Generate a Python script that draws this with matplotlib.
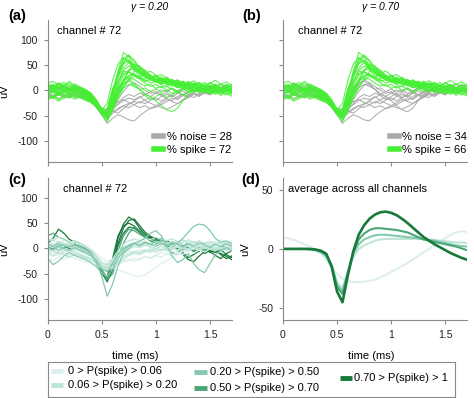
import numpy as np
import matplotlib
matplotlib.use('Agg')
import matplotlib.pyplot as plt
from matplotlib.lines import Line2D

plt.rcParams['font.family'] = ['Liberation Sans', 'DejaVu Sans']
plt.rcParams['axes.unicode_minus'] = False

# sample times (ms), one sample every 0.05 ms
time_ms = np.arange(35) * 0.05

# channel 72 snippets (uV) (a)/(b)
ch72_waveforms = [
    [4, 9, 3, 11, 6, 2, -3, -6, -14, -27, -43, -48, -8, 38, 75, 66, 48, 34, 25, 27, 19, 13, 16, 9, 11, 6, 13, 7, 3, 9, 5, -2, 6, 3, 9],
    [-6, -2, -9, -4, -10, -5, -8, -12, -18, -30, -40, -44, -2, 30, 52, 60, 50, 40, 31, 24, 20, 22, 14, 17, 10, 12, 5, 9, 2, -3, 4, -1, -6, 0, -4],
    [12, 8, 15, 10, 18, 9, 6, 1, -6, -22, -40, -36, 4, 27, 44, 55, 47, 36, 28, 20, 24, 15, 18, 12, 20, 14, 8, 15, 10, 16, 7, 12, 4, 10, 6],
    [0, -5, 3, -2, 4, 0, -4, -9, -15, -26, -46, -52, -18, 18, 40, 48, 44, 39, 30, 26, 18, 21, 12, 15, 8, 4, 10, 1, -4, 3, -7, -2, -10, -3, -8],
    [8, 3, 10, 5, 1, 6, 2, -3, -10, -24, -38, -26, 20, 52, 65, 58, 42, 33, 28, 22, 17, 24, 20, 13, 17, 10, 14, 19, 12, 8, 15, 9, 13, 7, 12],
    [-12, -16, -8, -14, -6, -11, -15, -20, -24, -32, -44, -58, -30, 8, 30, 40, 42, 35, 28, 30, 22, 16, 19, 12, 14, 7, 3, 9, -2, 4, -5, 1, -3, -9, -2],
    [3, 7, 0, 5, -2, 4, 1, -4, -11, -28, -47, -40, -5, 20, 33, 37, 31, 25, 34, 38, 30, 22, 26, 19, 13, 18, 11, 6, 13, 8, 2, 9, 3, -2, 5],
    [-3, 2, -6, 0, -8, -2, -6, -10, -17, -27, -42, -50, -25, 2, 18, 25, 22, 14, 9, 12, 4, 8, 0, 5, -3, 2, 6, -1, 4, -4, 1, -6, 2, -2, 3],
    [6, 1, 8, 3, 10, 4, 0, -5, -12, -24, -41, -45, -20, 5, 15, 18, 10, 2, -6, -12, -20, -30, -38, -42, -35, -20, -8, 2, 8, 3, 10, 5, 12, 6, 2],
    [-8, -3, -10, -5, 0, -6, -9, -14, -20, -30, -44, -56, -35, -2, 22, 40, 50, 45, 36, 27, 21, 14, 17, 10, 6, 12, 5, -1, 6, 0, -5, 2, -3, 4, -1],
    [2, -4, 3, -1, 5, 0, -3, -7, -13, -25, -38, -47, -30, -10, 5, 12, 8, 2, 5, -2, 3, -4, 1, -6, -1, 4, -3, 2, 7, 1, -4, 3, -2, 5, 0],
    [10, 5, 12, 7, 3, 9, 4, -1, -8, -20, -39, -42, -6, 35, 62, 70, 56, 43, 32, 26, 29, 20, 15, 21, 14, 9, 16, 10, 4, 11, 6, 12, 3, 8, 1],
    [-15, -10, -18, -12, -7, -14, -10, -16, -22, -33, -48, -62, -38, -5, 18, 30, 33, 24, 18, 22, 28, 31, 24, 16, 20, 13, 7, 14, 8, 2, 9, 3, -4, 2, -6],
    [5, 0, 7, 2, -3, 4, -1, -6, -14, -28, -44, -50, -42, -35, -30, -26, -22, -25, -18, -14, -20, -12, -8, -13, -5, -9, -2, 3, -4, 2, 6, 0, 5, -1, 3],
    [-5, -10, -3, -8, -12, -6, -10, -15, -22, -34, -48, -65, -55, -48, -52, -58, -60, -50, -42, -35, -30, -24, -18, -20, -12, -7, -11, -4, 1, -5, 2, -3, 4, -2, 1],
    [-10, -14, -7, -12, -5, -9, -13, -17, -20, -26, -35, -38, -30, -22, -18, -24, -28, -34, -30, -36, -33, -28, -22, -15, -18, -10, -14, -6, -10, -3, -7, 0, -5, 2, -4],
    [0, 4, -2, 6, 1, -3, -7, -11, -16, -25, -39, -44, -34, -28, -20, -15, -18, -12, -20, -25, -30, -34, -37, -32, -26, -18, -11, -14, -6, -2, -8, 1, -4, 3, -3],
    [8, 12, 5, 9, 14, 7, 3, -2, -9, -21, -37, -40, -22, -8, 8, 20, 28, 22, 15, 8, 12, 5, 9, 2, -4, 3, -2, 6, 0, -5, 2, -3, 5, 1, -2],
    [-2, 3, -5, 1, -3, 2, -2, -8, -16, -31, -45, -41, 0, 34, 54, 58, 46, 38, 27, 21, 16, 20, 11, 14, 7, 10, 3, 8, 0, 5, -2, 4, -4, 1, -3],
    [12, 7, 14, 9, 4, 10, 5, 0, -8, -22, -40, -48, -38, -26, -14, -8, -12, -5, -9, -2, -6, 1, -3, 4, -1, 6, 2, 8, 3, 10, 5, 11, 6, 12, 7],
    [-4, 1, -7, -2, 3, -5, -8, -13, -19, -29, -42, -50, -38, -15, 5, 22, 38, 45, 40, 30, 24, 18, 22, 15, 19, 11, 15, 8, 12, 5, 9, 2, 6, -1, 3],
    [14, 18, 11, 16, 9, 13, 7, 2, -5, -18, -36, -44, -12, 30, 62, 55, 40, 28, 35, 24, 28, 19, 24, 16, 21, 13, 18, 11, 16, 9, 14, 20, 12, 17, 10],
    [-18, -14, -21, -16, -11, -17, -13, -18, -23, -30, -41, -47, -20, 12, 38, 36, 30, 26, 20, 15, 18, 11, 7, 13, 5, 9, 2, -3, 3, -5, 0, -8, -2, -6, -11],
    [6, 10, 4, 8, 2, 7, 1, -4, -12, -26, -42, -54, -40, -10, 18, 38, 52, 48, 38, 29, 22, 26, 18, 22, 14, 18, 10, 14, 7, 11, 4, 8, 1, 5, -2],
    [-9, -13, -6, -11, -15, -8, -12, -17, -22, -31, -44, -52, -38, -18, -2, 10, 15, 8, 0, -6, -2, -9, -4, -12, -6, -1, -8, -3, 2, -4, 3, -2, 5, -1, 2],
    [3, -2, 5, 0, -4, 2, -3, -9, -17, -30, -46, -56, -45, -38, -30, -34, -28, -22, -26, -19, -15, -21, -14, -10, -16, -8, -12, -4, -9, -2, -6, 1, -3, 4, 0],
    [-1, 4, -3, 2, -6, 0, -4, -9, -16, -29, -44, -46, -10, 28, 55, 68, 60, 45, 33, 25, 30, 22, 16, 20, 12, 16, 9, 13, 6, 10, 3, 7, 0, 4, -3],
    [9, 4, 11, 6, 1, 7, 2, -4, -11, -23, -39, -46, -28, -5, 12, 22, 14, 2, -10, -18, -12, -6, -14, -8, -2, -9, -4, 3, -3, 4, -1, 6, 1, 7, 3],
    [-7, -12, -4, -9, -14, -7, -11, -15, -20, -28, -40, -43, -22, 5, 20, 28, 30, 26, 22, 26, 19, 14, 21, 15, 10, 17, 12, 6, 13, 8, 15, 9, 4, 11, 6],
    [-14, -9, -16, -11, -6, -12, -8, -13, -19, -30, -42, -48, -40, -45, -36, -28, -20, -14, -8, -12, -5, -10, -16, -22, -26, -20, -14, -8, -12, -5, -9, -2, -6, 0, -4],
]

# 1 = classed as spike, 0 = noise, for each gamma
is_spike_g020 = [1, 1, 1, 1, 1, 1, 1, 1, 1, 1, 1, 1, 1, 0, 0, 0, 0, 1, 1, 0,
                 1, 1, 1, 1, 0, 0, 1, 1, 1, 0]
is_spike_g070 = [1, 1, 1, 1, 1, 1, 1, 1, 0, 1, 0, 1, 1, 0, 0, 0, 0, 1, 1, 0,
                 1, 1, 1, 1, 0, 0, 1, 0, 1, 0]
gamma_labels = ['0.20', '0.70']
pct_noise = [28, 34]
pct_spike = [72, 66]

# channel 72 snippets coloured by P(spike) bin, panel (c)
ch72_prob_waveforms = [
    [10, 6, 12, 8, 3, 0, -5, -10, -16, -22, -28, -34, -38, -42, -46, -50, -54, -55, -52, -45, -38, -30, -24, -18, -12, -6, 0, 4, 8, 12, 10, 14, 9, 12, 8],
    [-5, -10, -2, -8, -13, -6, -11, -15, -19, -24, -30, -32, -28, -22, -18, -14, -10, -12, -6, -8, -2, -5, 2, -1, 4, 0, 6, 2, 8, 3, 7, 1, 5, 9, 4],
    [15, 18, 12, 16, 10, 14, 8, 4, -2, -10, -20, -26, -22, -15, -8, -2, 3, 8, 5, 10, 6, 12, 8, 14, 10, 16, 12, 8, 14, 10, 15, 11, 17, 12, 14],
    [-12, -8, -15, -10, -18, -12, -16, -20, -24, -28, -33, -36, -34, -30, -26, -22, -25, -20, -16, -18, -12, -8, -11, -5, -9, -3, -6, 0, -4, 2, -1, 4, 0, 3, -2],
    [5, 1, 8, 4, 10, 6, 2, -3, -10, -20, -34, -40, -25, -10, 2, 8, 12, 10, 14, 9, 13, 8, 11, 5, 9, 3, 7, 2, 6, -1, 4, 0, 3, -3, 1],
    [-8, -3, -11, -6, -2, -9, -12, -16, -21, -30, -40, -45, -32, -18, -8, 0, 4, 2, 7, 3, 0, 5, -2, 3, -5, 1, -3, 4, -1, 5, 0, -4, 2, -2, 3],
    [20, 15, 22, 17, 12, 16, 10, 5, -3, -14, -28, -33, -20, -5, 8, 15, 18, 16, 20, 17, 22, 18, 15, 19, 13, 17, 10, 14, 8, 12, 6, 10, 4, 8, 2],
    [0, -5, 2, -3, -8, -2, -6, -10, -14, -22, -36, -42, -36, -26, -16, -10, -6, -8, -3, -6, 0, -4, 2, -2, 4, 0, -3, 3, -1, 2, -2, 1, -4, 0, -1],
    [-20, -32, -25, -15, -8, -14, -18, -22, -28, -36, -48, -55, -40, -20, -5, 5, 10, 6, 12, 8, 4, 10, 6, 8, 10, 20, 32, 44, 48, 46, 35, 20, 12, 15, 10],
    [8, 4, 10, 6, 2, 7, 3, -2, -10, -28, -55, -94, -70, -35, -10, 0, 10, 5, 12, 8, 14, 10, 6, 12, 8, 3, 9, 5, 11, 7, 2, 8, 4, 10, 5],
    [2, -3, 5, 0, -4, 1, -3, -8, -14, -24, -40, -46, -30, -12, 0, 6, 10, 14, 20, 30, 35, 25, 5, -15, -28, -22, -10, -30, -42, -48, -30, -12, -5, 2, -4],
    [25, 30, 22, 18, 12, 15, 10, 4, -5, -20, -42, -58, -40, -5, 25, 38, 35, 28, 22, 18, 15, 20, 12, 8, 14, 6, 10, 2, 8, -5, 3, -2, 6, 1, 4],
    [-2, 3, -5, 0, 6, 2, -3, -8, -15, -27, -45, -62, -50, -18, 10, 30, 42, 36, 25, 15, 8, 12, 3, -8, -12, -5, 2, -4, 3, -2, 5, -1, 2, -3, 0],
    [10, 20, 38, 30, 18, 12, 8, 2, -6, -20, -45, -60, -30, 20, 48, 62, 55, 40, 28, 22, 20, 15, 10, 4, 0, -8, -18, -12, -5, 2, -6, -14, -20, -10, -5],
    [5, 0, 8, 3, 10, 6, 4, -1, -8, -22, -48, -66, -42, 10, 40, 55, 58, 45, 32, 24, 18, 12, 16, 8, 2, 6, -2, 4, -5, 0, -8, -3, -12, -20, -15],
    [0, 6, 2, 9, 4, 8, 3, -3, -10, -25, -50, -55, -20, 25, 45, 50, 44, 35, 25, 20, 14, 18, 10, 5, -4, -12, -22, -26, -15, -6, 2, -4, -10, -15, -22],
    [-4, 2, -2, 5, 0, 4, 1, -5, -12, -26, -46, -58, -35, 5, 30, 42, 40, 32, 22, 15, 10, 14, 6, 0, 4, -3, 2, -6, 0, -10, -4, -8, -2, -12, -18],
    [2, 7, 0, 5, 9, 3, -1, -6, -12, -20, -28, -30, -24, -16, -10, -5, -8, -2, -6, 1, -3, 4, 0, 6, 2, 8, 4, 10, 5, 9, 3, 7, 11, 6, 9],
    [-20, -24, -17, -22, -15, -19, -23, -26, -29, -33, -38, -40, -36, -31, -27, -23, -19, -22, -16, -20, -14, -17, -11, -14, -8, -12, -5, -9, -3, -7, -1, -4, 1, -2, -5],
    [12, 8, 14, 10, 6, 11, 7, 2, -6, -18, -32, -38, -26, -12, -2, 4, 8, 5, 10, 6, 11, 15, 10, 14, 8, 12, 17, 11, 15, 9, 13, 7, 11, 5, 9],
    [-10, -15, -8, -13, -17, -11, -14, -18, -22, -28, -38, -44, -38, -30, -22, -14, -8, -12, -6, -2, -7, -1, -5, 2, -3, 3, -2, 5, 0, 6, 1, -3, 4, -1, 2],
]
ch72_prob_bin = [0, 0, 0, 0, 1, 1, 1, 1, 2, 2, 2, 3, 3, 4, 4, 4, 4, 0, 0, 1, 1]

# average waveform across all channels for each P(spike) bin, panel (d)
avg_waveforms = [
    [10, 9, 7.5, 6, 4, 2, -1, -4, -9, -15, -21, -25, -27, -28, -28, -27.5, -27, -26, -24, -22, -19.5, -17, -14.5, -12, -9, -6, -3, 0, 3, 6, 9, 12, 14, 15, 14.5],
    [0, 0, 0, 0, 0, -0.5, -1.5, -3, -7, -15, -28, -33, -20, -7, 0, 3, 5, 7, 8, 8.5, 8.5, 8.5, 8.5, 8.5, 8.5, 8.5, 8.5, 8, 7.5, 7, 6.5, 6, 5.5, 5.5, 5],
    [0, 0, 0, 0, 0, -0.5, -1, -2.5, -6, -14, -30, -36, -19, -4, 4, 8, 10, 11.5, 12, 12, 11.5, 11, 10.5, 10, 9.5, 9, 8, 7.5, 7, 6, 5, 4, 3, 2.5, 2],
    [0, 0, 0, 0, 0, 0, -0.5, -2, -5, -14, -32, -38, -20, -3, 8, 13, 16, 17.5, 17.5, 17, 16.5, 16, 15, 14, 12, 10, 8, 7, 6, 5, 4, 3, 2, 0.5, -1],
    [0, 0, 0, 0, 0, 0, -0.5, -1.5, -4, -15, -36, -45, -22, -2, 12, 20, 25.5, 29, 31, 31.5, 30.5, 28.5, 25.5, 22, 18, 14, 10, 7, 4, 1.5, -1, -3.5, -5.5, -7.5, -9],
]

bin_labels = ['0 > P(spike) > 0.06', '0.06 > P(spike) > 0.20', '0.20 > P(spike) > 0.50',
              '0.50 > P(spike) > 0.70', '0.70 > P(spike) > 1']
bin_colors = ['#dcefee', '#bde5d6', '#84c9ae', '#4aa878', '#17793a']

noise_color = '#aaaaaa'
spike_color = '#45ef33'
axis_color = '#8a8a8a'
time_ticks = [0, 0.5, 1, 1.5]
time_ticklabels = ['0', '0.5', '1', '1.5']


def style_axis(ax, yticks, ylim, xlabels, ylabels):
    ax.set_xlim(0, 1.7)
    ax.set_ylim(*ylim)
    for side in ['top', 'right']:
        ax.spines[side].set_visible(False)
    for side in ['left', 'bottom']:
        ax.spines[side].set_color(axis_color)
        ax.spines[side].set_linewidth(0.8)
    ax.set_xticks(time_ticks)
    ax.set_yticks(yticks)
    ax.tick_params(direction='out', length=3, width=0.8, color=axis_color,
                   labelsize=7.5, pad=4, labelcolor='#222222')
    if xlabels:
        ax.set_xticklabels(time_ticklabels)
        ax.set_xlabel('time (ms)', fontsize=8)
        ax.xaxis.set_label_coords(0.475, -0.22)
    else:
        ax.set_xticklabels([])
    if ylabels:
        ax.set_yticklabels([str(v) for v in yticks])
        ax.set_ylabel('uV', fontsize=8)
    else:
        ax.set_yticklabels([])


fig = plt.figure(figsize=(4.74, 3.98), dpi=100)
ax_a = fig.add_axes([0.1006, 0.593, 0.388, 0.357])
ax_b = fig.add_axes([0.597, 0.593, 0.388, 0.357])
ax_c = fig.add_axes([0.1006, 0.196, 0.388, 0.357])
ax_d = fig.add_axes([0.597, 0.196, 0.388, 0.357])

# (a) and (b): the same snippets, split into noise/spike by gamma
for ax, flags, n, s in [(ax_a, is_spike_g020, pct_noise[0], pct_spike[0]),
                        (ax_b, is_spike_g070, pct_noise[1], pct_spike[1])]:
    for wave, f in zip(ch72_waveforms, flags):
        if f == 0:
            ax.plot(time_ms, wave, color=noise_color, lw=0.7)
    for wave, f in zip(ch72_waveforms, flags):
        if f == 1:
            ax.plot(time_ms, wave, color=spike_color, lw=0.8, alpha=0.85)
    handles = [Line2D([], [], color=noise_color, lw=4),
               Line2D([], [], color=spike_color, lw=4)]
    ax.legend(handles, [f'% noise = {n}', f'% spike = {s}'], loc='lower right',
              bbox_to_anchor=(1.0, 0.05), frameon=False, fontsize=8,
              handlelength=0.8, handletextpad=0.3, labelspacing=0.3,
              borderpad=0, borderaxespad=0)
    ax.text(0.05 if ax is ax_a else 0.08, 0.92, 'channel # 72', transform=ax.transAxes,
            fontsize=8, va='center', ha='left')

style_axis(ax_a, [-100, -50, 0, 50, 100], (-141, 139), False, True)
style_axis(ax_b, [-100, -50, 0, 50, 100], (-141, 139), False, False)
ax_a.yaxis.set_label_coords(-0.21, 0.5)

# (c): snippets coloured by P(spike) bin, strongest bins underneath
for b in [4, 3, 0, 1, 2]:
    for wave, wb in zip(ch72_prob_waveforms, ch72_prob_bin):
        if wb == b:
            ax_c.plot(time_ms, wave, color=bin_colors[b], lw=0.9)
ax_c.text(0.083, 0.92, 'channel # 72', transform=ax_c.transAxes,
          fontsize=8, va='center', ha='left')
style_axis(ax_c, [-100, -50, 0, 50, 100], (-141, 139), True, True)
ax_c.yaxis.set_label_coords(-0.21, 0.5)

# (d): averages across all channels
for wave, c, b in zip(avg_waveforms, bin_colors, range(len(bin_colors))):
    ax_d.plot(time_ms, wave, color=c, lw=1.9 if b == 4 else 1.5)
ax_d.text(0.03, 0.92, 'average across all channels', transform=ax_d.transAxes,
          fontsize=8, va='center', ha='left')
style_axis(ax_d, [-50, 0, 50], (-60, 60), True, True)
ax_d.yaxis.set_label_coords(-0.178, 0.5)
ax_d.xaxis.set_label_coords(0.478, -0.22)

# panel letters and gamma titles
for x, y, lab in [(17, 16, '(a)'), (252, 16, '(b)'), (17, 180, '(c)'), (251, 180, '(d)')]:
    fig.text(x / 474, 1 - y / 398, lab, fontsize=10.5, weight='bold', ha='center', va='center')
for x, g in [(150, gamma_labels[0]), (381, gamma_labels[1])]:
    fig.text(x / 474, 1 - 7 / 398, f'γ = {g}', fontsize=7.5, style='italic',
             ha='center', va='center')

# shared legend for the P(spike) bins
leg_ax = fig.add_axes([48 / 474, 1 / 398, 407 / 474, 35 / 398])
leg_ax.set_xlim(48, 455)
leg_ax.set_ylim(397, 362)
leg_ax.set_xticks([])
leg_ax.set_yticks([])
for sp in leg_ax.spines.values():
    sp.set_color(axis_color)
    sp.set_linewidth(0.8)
slots = [(51, 63, 68, 371), (51, 63, 68, 385), (194, 207, 210, 372),
         (194, 207, 210, 388), (340, 352, 354, 378)]
for (x0, x1, xt, y), lab, c in zip(slots, bin_labels, bin_colors):
    leg_ax.plot([x0, x1], [y, y], color=c, lw=3.5, solid_capstyle='butt')
    leg_ax.text(xt, y, lab, fontsize=8, va='center', ha='left')

fig.savefig('out.png', dpi=100)
